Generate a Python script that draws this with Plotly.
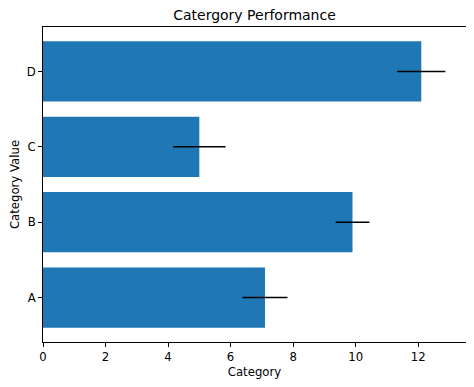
import plotly.graph_objects as go

categories = ["A", "B", "C", "D"]
values = [7.1, 9.9, 5.0, 12.1]
errors = [0.72, 0.54, 0.84, 0.77]
x_ticks = [0, 2, 4, 6, 8, 10, 12]

font = "DejaVu Sans"

# page body has an 8px default margin, so the figure is sized/offset to compensate
fig = go.Figure(
    go.Bar(
        y=categories,
        x=values,
        orientation="h",
        width=0.8,
        marker=dict(color="#1f77b4", line=dict(width=0)),
        error_x=dict(type="data", array=errors, color="black", thickness=1.5, width=0),
    )
)

fig.update_layout(
    width=466,
    height=379,
    margin=dict(l=35, r=8, t=19, b=45, autoexpand=False),
    plot_bgcolor="white",
    paper_bgcolor="white",
    showlegend=False,
    title=dict(text="Catergory Performance", xref="paper", x=0.5, xanchor="center",
               yref="paper", y=1, yanchor="bottom", pad=dict(b=7),
               font=dict(family=font, size=14, color="black")),
    font=dict(family=font, size=11.7, color="black"),
)

fig.update_xaxes(
    range=[0, 13.53],
    tickvals=x_ticks,
    ticks="outside", ticklen=4, tickcolor="black",
    showline=True, linecolor="black", linewidth=1, mirror=True,
    showgrid=False, zeroline=False, automargin=False,
    title=dict(text="Category", font=dict(size=11.7), standoff=4),
    tickfont=dict(size=11.7),
)
fig.update_yaxes(
    range=[-0.59, 3.59],
    categoryorder="array", categoryarray=categories,
    ticks="outside", ticklen=4, tickcolor="black",
    showline=True, linecolor="black", linewidth=1, mirror=True,
    showgrid=False, zeroline=False, automargin=False,
    title=dict(text="Category Value", font=dict(size=11.7), standoff=6),
    tickfont=dict(size=11.7),
)

fig.write_html("out.html")
